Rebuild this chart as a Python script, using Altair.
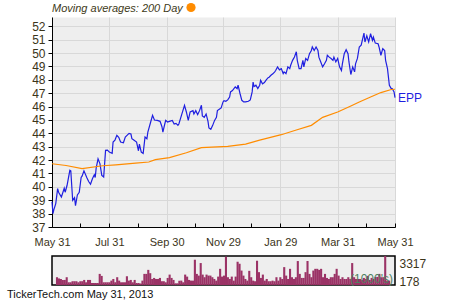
import altair as alt
import pandas as pd

START = "2012-05-31"

# price (EPP) : day offset from start, closing value
price_days = [0, 1, 2, 4, 6, 7, 10, 13, 14, 16, 19, 20, 22, 24, 25, 27, 29, 31, 32, 34,
              37, 39, 41, 43, 45, 46, 47, 49, 51, 53, 55, 57, 59, 61, 64, 65, 67, 69, 71, 73,
              76, 78, 82, 84, 85, 87, 90, 92, 93, 95, 97, 99, 101, 102, 105, 107, 109, 112, 115, 117,
              118, 120, 121, 123, 125, 128, 130, 132, 134, 135, 138, 141, 143, 145, 147, 150, 151, 153, 155, 157,
              159, 160, 162, 164, 166, 167, 169, 171, 173, 175, 176, 178, 180, 182, 183, 185, 187, 189, 190, 192,
              195, 197, 198, 200, 202, 204, 206, 209, 211, 213, 214, 215, 217, 219, 221, 222, 224, 226, 228, 230,
              231, 233, 235, 237, 238, 240, 242, 244, 246, 247, 249, 251, 253, 254, 256, 258, 260, 261, 263, 265,
              267, 268, 270, 272, 274, 276, 277, 279, 281, 283, 284, 286, 288, 290, 292, 293, 295, 297, 299, 300,
              302, 304, 306, 308, 309, 311, 313, 315, 316, 318, 320, 322, 323, 325, 327, 329, 331, 332, 333, 335,
              337, 339, 341, 342, 344, 347, 348, 350, 352, 354, 355, 357, 359, 361, 362, 364, 365]
price_vals = [38.9, 38.0, 38.3, 38.75, 39.87, 39.6, 39.24, 39.9, 39.6, 40.1, 41.24, 41.2, 39.0, 39.2, 38.6, 39.4, 39.6, 40.7, 40.8, 41.2,
              40.7, 40.4, 40.2, 40.6, 40.9, 40.7, 41.4, 42.1, 41.74, 40.86, 40.74, 42.73, 42.75, 42.6, 42.5, 43.35, 43.5, 43.85, 43.7, 43.35,
              43.3, 43.73, 44.0, 43.95, 43.6, 43.5, 43.35, 42.7, 43.2, 42.6, 42.5, 43.73, 43.6, 44.1, 44.85, 45.35, 45.0, 44.97, 44.9, 44.5,
              44.1, 44.7, 44.97, 44.85, 44.9, 44.97, 44.7, 44.75, 44.6, 44.7, 45.4, 46.1, 45.6, 44.97, 45.6, 45.7, 45.45, 45.7, 45.4, 45.7,
              46.1, 45.3, 45.2, 45.45, 44.9, 44.4, 44.3, 44.6, 44.97, 45.2, 45.7, 45.8, 45.9, 46.35, 46.45, 46.4, 46.5, 46.72, 47.1, 47.2,
              47.47, 47.35, 47.6, 47.0, 46.47, 46.35, 46.35, 46.4, 46.5, 47.1, 47.84, 47.5, 47.6, 47.35, 47.6, 47.97, 47.7, 47.8, 48.0, 48.16,
              48.2, 48.34, 48.45, 48.6, 48.7, 48.97, 48.75, 48.84, 48.47, 48.6, 48.47, 48.97, 48.84, 49.09, 49.46, 49.71, 50.1, 49.46, 48.84, 48.84,
              49.46, 48.97, 49.6, 49.46, 49.96, 50.2, 50.46, 50.2, 50.46, 50.2, 49.7, 49.34, 48.97, 49.2, 49.46, 49.84, 49.7, 49.6, 49.46, 49.7,
              49.34, 49.6, 48.97, 48.7, 49.2, 49.96, 50.26, 49.96, 49.34, 48.4, 48.97, 48.6, 49.2, 49.6, 50.46, 50.6, 51.2, 51.5, 50.83, 51.3,
              50.83, 51.45, 50.96, 51.2, 50.75, 50.7, 50.46, 49.84, 50.33, 50.2, 49.46, 48.84, 47.6, 47.35, 47.35, 47.1, 46.67]

# 200 day moving average
ma_days = [0, 15, 32, 54, 68, 89, 103, 110, 125, 143, 159, 187, 206, 221, 244, 260, 276, 288, 304, 318, 327, 339, 350, 361, 365]
ma_vals = [41.73, 41.6, 41.36, 41.58, 41.65, 41.78, 41.86, 42.04, 42.19, 42.55, 42.93, 43.03, 43.2, 43.5, 43.9, 44.25, 44.6,
           45.2, 45.6, 46.05, 46.34, 46.72, 47.05, 47.28, 47.3]

# volume (1000's)
volumes = [890, 750, 690, 580, 580, 890, 310, 310, 430, 430, 430, 310, 430, 430, 580, 310, 580, 580, 230, 230,
           230, 230, 1270, 1040, 310, 310, 310, 310, 500, 690, 310, 890, 500, 310, 310, 310, 1000, 500, 580, 310,
           580, 230, 230, 175, 500, 1270, 1270, 1730, 1350, 690, 810, 690, 690, 810, 430, 430, 310, 810,
           1190, 810, 580, 195, 195, 500, 500, 310, 1190, 960, 580, 500, 500, 2890, 1270, 1075, 2510, 1190, 890, 1190,
           1075, 1075, 890, 690, 500, 960, 1850, 960, 1075, 3240, 890, 690, 960, 500, 960, 2660, 2430, 1650, 1075, 690,
           500, 1620, 890, 500, 430, 2775, 1470, 810, 1190, 500, 690, 430, 430, 500, 430, 890, 500,
           890, 690, 2045, 1075, 690, 1850, 890, 690, 890, 2740, 1270, 810, 810, 1470, 2740, 1270, 890, 1650, 1850, 1850,
           1730, 1850, 890, 1270, 810, 690, 890, 890, 1270, 1850, 1075, 690, 890, 690, 690, 890, 690, 2510, 890, 690,
           690, 690, 580, 810, 690, 1040, 580, 810, 690, 925, 925, 1270, 890, 890, 3317, 500, 500]

tick_dates = [(2012, 5, 31), (2012, 6, 30), (2012, 7, 31), (2012, 8, 31), (2012, 9, 30), (2012, 10, 30),
              (2012, 11, 29), (2012, 12, 29), (2013, 1, 29), (2013, 2, 28), (2013, 3, 31), (2013, 4, 30), (2013, 5, 31)]
label_dates = tick_dates[::2]
y_ticks = [37 + 0.5 * i for i in range(32)]
vol_labels = [178, 3317]

TITLE = "Moving averages: 200 Day"
SYMBOL = "EPP"
FOOTER = "TickerTech.com  May 31, 2013"

FONT = "Liberation Sans"
LABEL_COLOR = "#3b3419"
BLUE = "#1f1fe0"
ORANGE = "#ff8c00"
VOL_COLOR = "#9b3366"
BG = "#eeeeee"
GRID = "#d8d8d8"

start = pd.Timestamp(START)
fmt = "%Y-%m-%dT%H:%M:%S"
price_df = pd.DataFrame({"date": [(start + pd.Timedelta(days=d)).strftime(fmt) for d in price_days],
                         "value": price_vals})
ma_df = pd.DataFrame({"date": [(start + pd.Timedelta(days=d)).strftime(fmt) for d in ma_days],
                      "value": ma_vals})
vol_df = pd.DataFrame({"date": [d.strftime(fmt) for d in pd.date_range(START, "2013-05-30", periods=len(volumes))],
                       "vol": volumes})
last_df = price_df.iloc[[-1]].assign(label=SYMBOL)


def dt(t):
    return alt.DateTime(year=t[0], month=t[1], date=t[2])


x_scale = alt.Scale(domain=[dt(tick_dates[0]), dt(tick_dates[-1])])
y_scale = alt.Scale(domain=[37, 52.7], nice=False, zero=False)

W, H = 343, 210
VH = 29

axis_labels = alt.Axis(values=[dt(t) for t in label_dates], format="%b %d", title=None,
                       grid=True, gridColor=GRID, gridWidth=1, domain=True, domainColor="black", domainWidth=1,
                       ticks=False, labelPadding=9, labelFontSize=11, labelColor=LABEL_COLOR, labelFont=FONT,
                       labelFlush=False, labelOverlap=False, labelBound=False, orient="bottom")
axis_ticks = alt.Axis(values=[dt(t) for t in tick_dates], title=None, grid=False, domain=False, labels=False,
                      ticks=True, tickSize=4, tickColor="black", tickWidth=1, offset=-4, orient="bottom")
y_axis = alt.Axis(values=y_ticks, title=None, labelExpr="datum.value % 1 === 0 ? datum.label : ''",
                  grid=True, gridColor=GRID, gridWidth=1,
                  gridOpacity={"condition": {"test": "datum.value % 1 === 0", "value": 1}, "value": 0},
                  domain=True, domainColor="black", domainWidth=1, ticks=True, tickSize=4, tickColor="black",
                  labelPadding=3, labelFontSize=12, labelColor=LABEL_COLOR, labelFont=FONT, format="d",
                  orient="left")

price = alt.Chart(price_df).mark_line(color=BLUE, strokeWidth=1.2).encode(
    x=alt.X("date:T", scale=x_scale, axis=axis_labels),
    y=alt.Y("value:Q", scale=y_scale, axis=y_axis),
)
ma = alt.Chart(ma_df).mark_line(color=ORANGE, strokeWidth=1.2).encode(
    x=alt.X("date:T", scale=x_scale, axis=axis_ticks),
    y=alt.Y("value:Q", scale=y_scale, axis=y_axis),
)
epp = alt.Chart(last_df).mark_text(align="left", baseline="middle", dx=3, fontSize=12, font=FONT, color=BLUE).encode(
    x=alt.X("date:T", scale=x_scale, axis=None),
    y=alt.Y("value:Q", scale=y_scale, axis=y_axis),
    text="label:N",
)
title_df = pd.DataFrame({"t": [TITLE]})
title_txt = alt.Chart(title_df).mark_text(align="left", baseline="middle", fontSize=11, font=FONT,
                                          fontStyle="italic", color="#403a20").encode(
    x=alt.value(0), y=alt.value(-8), text="t:N")
dot = alt.Chart(title_df).mark_point(filled=True, size=85, color=ORANGE, opacity=1).encode(
    x=alt.value(139), y=alt.value(-9.5))

main = alt.layer(price, ma, epp, title_txt, dot).resolve_axis(x="independent").properties(
    width=W, height=H, view=alt.ViewBackground(fill=BG, stroke="transparent"))

bars = alt.Chart(vol_df).mark_bar(size=2.1, color=VOL_COLOR).encode(
    x=alt.X("date:T", scale=x_scale, axis=None),
    y=alt.Y("vol:Q", scale=alt.Scale(domain=[0, 3317], nice=False),
            axis=alt.Axis(orient="right", values=vol_labels, format="d", title=None, grid=False, domain=False,
                          ticks=False, labelPadding=4, labelFontSize=12, labelColor=LABEL_COLOR, labelFont=FONT,
                          labelBaseline="middle",
                          labelOffset={"condition": {"test": "datum.value > 1000", "value": 7}, "value": -2})),
)
unit_df = pd.DataFrame({"t": ["(1000's)"]})
unit_txt = alt.Chart(unit_df).mark_text(align="right", baseline="middle", fontSize=12, font=FONT,
                                        color="#4f7f5f").encode(x=alt.value(341), y=alt.value(22.5), text="t:N")
foot_df = pd.DataFrame({"t": [FOOTER]})
foot_txt = alt.Chart(foot_df).mark_text(align="left", baseline="middle", fontSize=11, font=FONT,
                                        color="#111111").encode(x=alt.value(-45), y=alt.value(38.5), text="t:N")

vol = alt.layer(bars, unit_txt, foot_txt).properties(
    width=W, height=VH, view=alt.ViewBackground(fill=BG, stroke="black", strokeWidth=1.5))

chart = alt.vconcat(main, vol, spacing=29, bounds="flush").properties(
    padding={"left": 6, "top": 2, "right": 5, "bottom": 5},
    background="white",
).configure_view(stroke=None)

chart.save("out.html", embed_options={"renderer": "svg", "actions": False})
